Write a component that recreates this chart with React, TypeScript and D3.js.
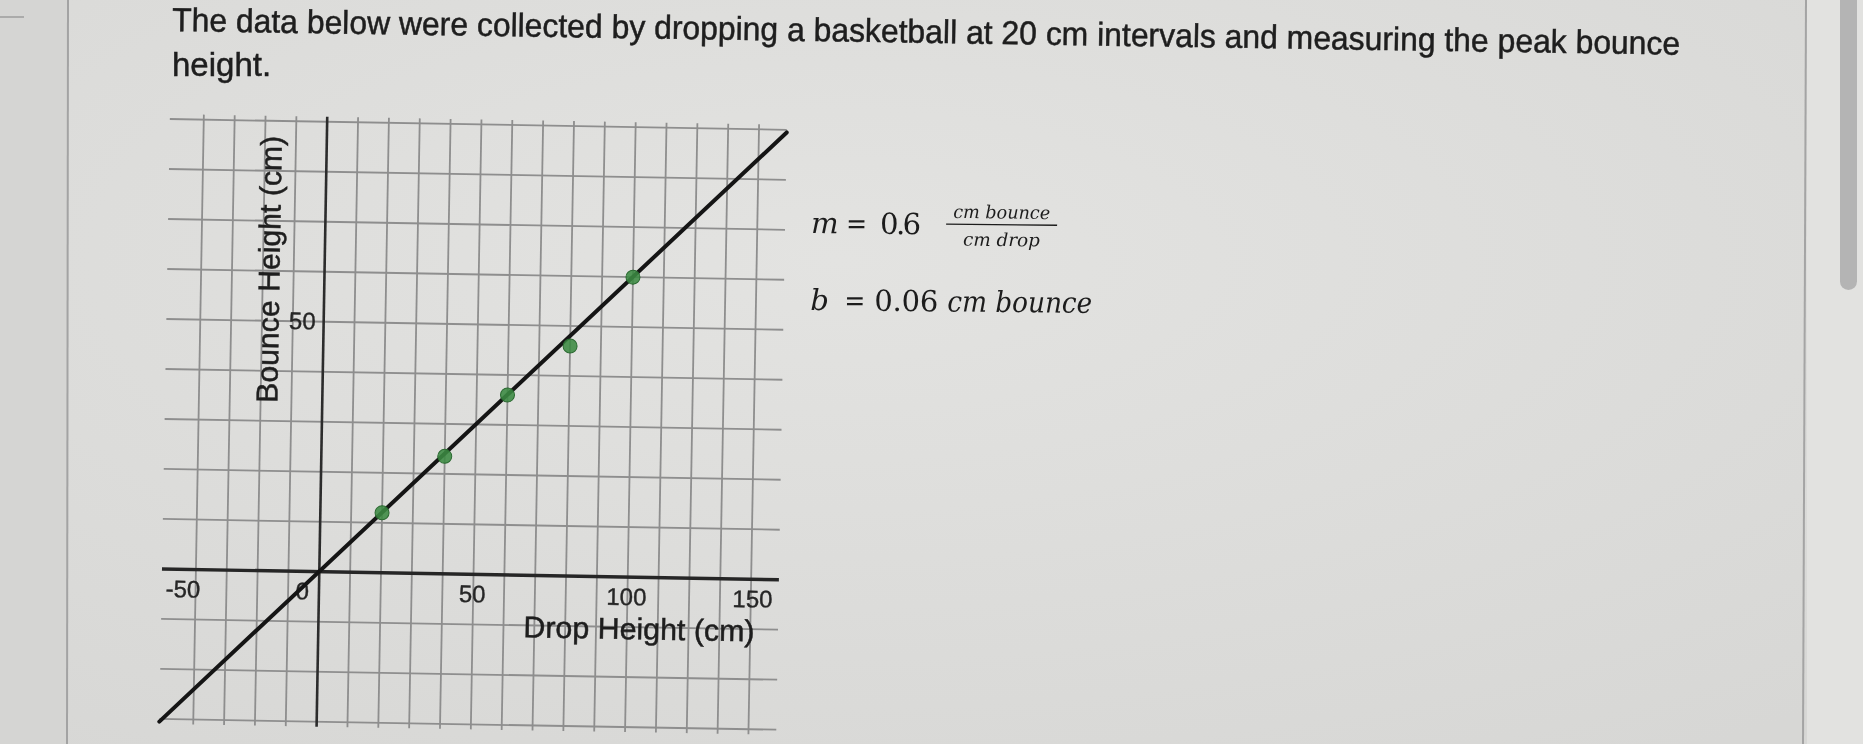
import React, { useMemo } from 'react';
import * as d3 from 'd3';

// ---------- data ----------
const TITLE_LINES = [
  'The data below were collected by dropping a basketball at 20 cm intervals and measuring the peak bounce',
  'height.',
];
const DROP_HEIGHTS = [20, 40, 60, 80, 100];
const BOUNCE_HEIGHTS = [12, 23.5, 36, 46, 60];
const SLOPE = 0.6;
const INTERCEPT = 0.06;
const X_DOMAIN = [-51, 149];
const Y_DOMAIN = [-31, 91];
const X_GRID = [-40, -30, -20, -10, 10, 20, 30, 40, 50, 60, 70, 80, 90, 100, 110, 120, 130, 140];
const Y_GRID = [-30, -20, -10, 10, 20, 30, 40, 50, 60, 70, 80, 90];
const X_TICK_VALUES = [-50, 0, 50, 100, 150];
const X_TICK_LABELS = ['-50', '0', '50', '100', '150'];
const Y_TICK_VALUES = [50];
const Y_TICK_LABELS = ['50'];
const X_TITLE = 'Drop Height (cm)';
const Y_TITLE = 'Bounce Height (cm)';
const M_LABEL = '0.6';
const B_LABEL = '0.06';
const FRACTION_TOP = 'cm bounce';
const FRACTION_BOTTOM = 'cm drop';
const B_UNIT = 'cm bounce';

// ---------- layout ----------
const W = 1863;
const H = 744;
const ORIGIN_X = 319.3;
const ORIGIN_Y = 571.7;
const PX_PER_X = 3.085;
const PX_PER_Y = 5.0;
const TILT = 1.0;
const TITLE_X = 172;
const TITLE_Y = 31;
const TITLE_W = 1508;
const TITLE_TILT = 0.9;
const TITLE_SIZE = 33;

const SANS = '"Liberation Sans", Arial, Helvetica, sans-serif';
const SERIF = '"DejaVu Serif", "Liberation Serif", serif';

function useTitleWords(line: string) {
  return useMemo(() => {
    const words = line.split(' ');
    let widths = words.map((w) => w.length * TITLE_SIZE * 0.5);
    let space = TITLE_SIZE * 0.278;
    try {
      const ctx = document.createElement('canvas').getContext('2d');
      if (ctx) {
        ctx.font = `${TITLE_SIZE}px "Liberation Sans", Arial, sans-serif`;
        widths = words.map((w) => ctx.measureText(w).width);
        space = ctx.measureText(' ').width;
      }
    } catch (e) {
      /* fallback widths */
    }
    const natural = d3.sum(widths) + space * (words.length - 1);
    const k = TITLE_W / natural;
    const tan = Math.tan((TITLE_TILT * Math.PI) / 180);
    let cur = 0;
    return words.map((w, i) => {
      const wx = TITLE_X + cur * k;
      const item = { text: w, x: wx, y: TITLE_Y + (wx - TITLE_X) * tan, len: widths[i] * k };
      cur += widths[i] + space;
      return item;
    });
  }, [line]);
}

export default function App() {
  const x = d3
    .scaleLinear()
    .domain(X_DOMAIN)
    .range([ORIGIN_X + X_DOMAIN[0] * PX_PER_X, ORIGIN_X + X_DOMAIN[1] * PX_PER_X]);
  const y = d3
    .scaleLinear()
    .domain(Y_DOMAIN)
    .range([ORIGIN_Y - Y_DOMAIN[0] * PX_PER_Y, ORIGIN_Y - Y_DOMAIN[1] * PX_PER_Y]);

  const [xMin, xMax] = X_DOMAIN;
  const [yMin, yMax] = Y_DOMAIN;

  const fitLine = d3
    .line<number>()
    .x((d) => x(d))
    .y((d) => y(SLOPE * d + INTERCEPT));

  const titleWords = useTitleWords(TITLE_LINES[0]);

  const gridColor = '#8e8e8e';
  const ink = '#1e1e1e';

  const tickAnchor = (v: number) => {
    if (v <= xMin + 1) return { tx: x(xMin) + 4, anchor: 'start' };
    if (v >= xMax - 1) return { tx: x(xMax) - 6, anchor: 'end' };
    if (v === 0) return { tx: x(0) - 10, anchor: 'end' };
    return { tx: x(v) - 1, anchor: 'middle' };
  };

  return (
    <svg
      width={W}
      height={H}
      viewBox={`0 0 ${W} ${H}`}
      style={{ position: 'fixed', left: 0, top: 0, display: 'block' }}
    >
      <defs>
        <radialGradient id="bg" cx="0.45" cy="0.35" r="0.8">
          <stop offset="0" stopColor="#e3e3e1" />
          <stop offset="1" stopColor="#d7d7d5" />
        </radialGradient>
      </defs>
      {/* photo background */}
      <rect x={0} y={0} width={W} height={H} fill="url(#bg)" />
      <rect x={0} y={0} width={68} height={H} fill="#d5d5d3" />
      <line x1={68} y1={0} x2={67} y2={H} stroke="#a3a3a3" strokeWidth={2} />
      <line x1={0} y1={17} x2={24} y2={17} stroke="#9c9c9c" strokeWidth={1.5} />
      <rect x={1807} y={0} width={56} height={H} fill="#e2e2e0" />
      <line x1={1806} y1={0} x2={1803} y2={H} stroke="#a4a4a4" strokeWidth={2} />
      <rect x={1840} y={-10} width={17} height={300} rx={8.5} fill="#b4b4b4" />

      {/* title */}
      <g fill={ink} stroke={ink} strokeWidth={0.5} fontFamily={SANS} fontSize={TITLE_SIZE}>
        {titleWords.map((w, i) => (
          <text
            key={`tw${i}`}
            x={w.x}
            y={w.y}
            transform={`rotate(${TITLE_TILT}, ${w.x}, ${w.y})`}
            textLength={w.len}
            lengthAdjust="spacingAndGlyphs"
          >
            {w.text}
          </text>
        ))}
        <text x={TITLE_X} y={76}>
          {TITLE_LINES[1]}
        </text>
      </g>

      {/* chart */}
      <g transform={`rotate(${TILT}, ${x(0)}, ${y(0)})`}>
        {X_GRID.map((v) => (
          <line
            key={`gx${v}`}
            x1={x(v)}
            x2={x(v)}
            y1={y(yMin)}
            y2={y(yMax)}
            stroke={gridColor}
            strokeWidth={1.8}
          />
        ))}
        {Y_GRID.map((v) => (
          <line
            key={`gy${v}`}
            x1={x(xMin)}
            x2={x(xMax)}
            y1={y(v)}
            y2={y(v)}
            stroke={gridColor}
            strokeWidth={1.8}
          />
        ))}
        {/* axes */}
        <line x1={x(0)} x2={x(0)} y1={y(yMin)} y2={y(yMax)} stroke="#2c2c2c" strokeWidth={2.6} />
        <line x1={x(xMin)} x2={x(xMax)} y1={y(0)} y2={y(0)} stroke="#262626" strokeWidth={3.4} />

        {/* tick labels */}
        {X_TICK_VALUES.map((v, i) => {
          const t = tickAnchor(v);
          return (
            <text
              key={`xt${v}`}
              x={t.tx}
              y={y(0) + 28}
              textAnchor={t.anchor}
              fontFamily={SANS}
              fontSize={24}
              fill="#262626"
              stroke="#262626"
              strokeWidth={0.4}
            >
              {X_TICK_LABELS[i]}
            </text>
          );
        })}
        {Y_TICK_VALUES.map((v, i) => (
          <text
            key={`yt${v}`}
            x={x(0) - 8}
            y={y(v) + 8}
            textAnchor="end"
            fontFamily={SANS}
            fontSize={24}
            fill="#262626"
            stroke="#262626"
            strokeWidth={0.4}
          >
            {Y_TICK_LABELS[i]}
          </text>
        ))}

        {/* axis titles */}
        <text
          x={x(66.5)}
          y={y(-12.4)}
          fontFamily={SANS}
          fontSize={30}
          fill={ink}
          stroke={ink}
          strokeWidth={0.5}
          textLength={231}
          lengthAdjust="spacingAndGlyphs"
        >
          {X_TITLE}
        </text>
        <text
          transform={`translate(${x(0) - 45}, ${y(60.3)}) rotate(-90)`}
          textAnchor="middle"
          fontFamily={SANS}
          fontSize={30}
          fill={ink}
          stroke={ink}
          strokeWidth={0.5}
          textLength={267}
          lengthAdjust="spacingAndGlyphs"
        >
          {Y_TITLE}
        </text>

        {/* best-fit line */}
        <path
          d={fitLine([xMin, xMax]) || ''}
          fill="none"
          stroke="#151515"
          strokeWidth={4}
          strokeLinecap="round"
        />

        {/* data points */}
        {DROP_HEIGHTS.map((d, i) => (
          <circle
            key={`p${d}`}
            cx={x(d)}
            cy={y(BOUNCE_HEIGHTS[i])}
            r={7}
            fill="#3b8a42"
            fillOpacity={0.88}
            stroke="#2b6a31"
            strokeWidth={1}
          />
        ))}
      </g>

      {/* equations */}
      <g transform="rotate(0.6, 812, 233)" fill="#1c1c1c" fontFamily={SERIF}>
        <text x={811} y={233} fontSize={29} fontStyle="italic">m</text>
        <text x={846} y={233} fontSize={29} textLength={21} lengthAdjust="spacingAndGlyphs">=</text>
        <text x={880} y={233} fontSize={29} textLength={41} lengthAdjust="spacing">{M_LABEL}</text>
        <text x={953} y={216.5} fontSize={18} fontStyle="italic" textLength={97} lengthAdjust="spacingAndGlyphs">
          {FRACTION_TOP}
        </text>
        <line x1={946} x2={1057} y1={222.7} y2={222.7} stroke="#1c1c1c" strokeWidth={1.4} />
        <text x={963} y={244} fontSize={18} fontStyle="italic" textLength={77} lengthAdjust="spacingAndGlyphs">
          {FRACTION_BOTTOM}
        </text>

        <text x={811} y={310} fontSize={29} fontStyle="italic">b</text>
        <text x={845} y={310} fontSize={29} textLength={21} lengthAdjust="spacingAndGlyphs">=</text>
        <text x={875} y={310} fontSize={29} textLength={64} lengthAdjust="spacing">{B_LABEL}</text>
        <text x={948} y={310} fontSize={29} fontStyle="italic" textLength={145} lengthAdjust="spacingAndGlyphs">
          {B_UNIT}
        </text>
      </g>
    </svg>
  );
}
